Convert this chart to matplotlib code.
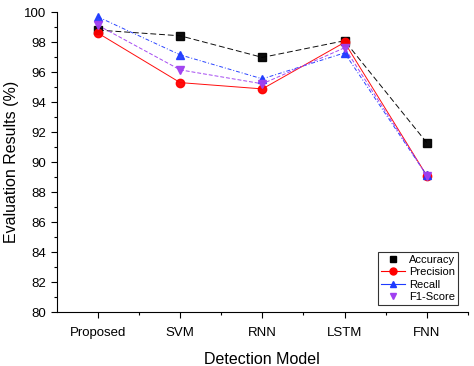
import matplotlib.pyplot as plt
from matplotlib.lines import Line2D
from matplotlib.ticker import MultipleLocator

plt.rcParams['font.family'] = ['Liberation Sans', 'DejaVu Sans']

models = ["Proposed", "SVM", "RNN", "LSTM", "FNN"]
accuracy = [98.8, 98.42, 96.98, 98.09, 91.3]
precision = [98.6, 95.3, 94.88, 97.98, 89.1]
recall = [99.68, 97.15, 95.55, 97.28, 89.12]
f1_score = [99.12, 96.15, 95.22, 97.62, 89.1]

x = list(range(1, len(models) + 1))

fig = plt.figure(figsize=(4.74, 3.66), dpi=100)
ax = fig.add_axes([0.12, 0.147, 0.867, 0.82])

# series: (values, label, colour, marker, line style)
series = [
    (accuracy, "Accuracy", "black", "s", (0, (6, 3))),
    (precision, "Precision", "red", "o", "-"),
    (recall, "Recall", "#1f3bff", "^", (0, (4, 2, 1, 2))),
    (f1_score, "F1-Score", "#a040f0", "v", (0, (4, 2))),
]
for vals, label, col, mk, ls in series:
    ax.plot(x, vals, color=col, marker=mk, markersize=6, linestyle=ls,
            linewidth=0.7, alpha=0.95, zorder=3)

handles = [
    Line2D([], [], color="black", marker="s", markersize=5, linestyle="none"),
    Line2D([], [], color="red", marker="o", markersize=5, linewidth=0.8),
    Line2D([], [], color="#1f3bff", marker="^", markersize=5, linewidth=0.8),
    Line2D([], [], color="#a040f0", marker="v", markersize=5, linestyle="none"),
]
leg = ax.legend(handles, [s[1] for s in series], loc="lower right",
                fontsize=8, frameon=True, fancybox=False, handlelength=2.2,
                handletextpad=0.3, borderpad=0.3, labelspacing=0.2,
                bbox_to_anchor=(0.99, 0.005))
leg.get_frame().set_edgecolor("black")
leg.get_frame().set_linewidth(0.8)

ax.set_xlim(0.5, 5.5)
ax.set_ylim(80, 100)
ax.set_xticks(x)
ax.set_xticklabels(models)
ax.set_xticks([1.5, 2.5, 3.5, 4.5, 5.5], minor=True)
ax.yaxis.set_major_locator(MultipleLocator(2))
ax.yaxis.set_minor_locator(MultipleLocator(1))
ax.tick_params(axis="both", which="major", labelsize=9.5, length=4, width=0.8)
ax.tick_params(axis="x", which="major", pad=7)
ax.tick_params(axis="both", which="minor", length=2.5, width=0.8)

ax.spines["top"].set_visible(False)
ax.spines["right"].set_visible(False)
ax.set_xlabel("Detection Model", fontsize=11.5, labelpad=9)
ax.set_ylabel("Evaluation Results (%)", fontsize=11.5, labelpad=4)

fig.savefig("out.png", dpi=100)
